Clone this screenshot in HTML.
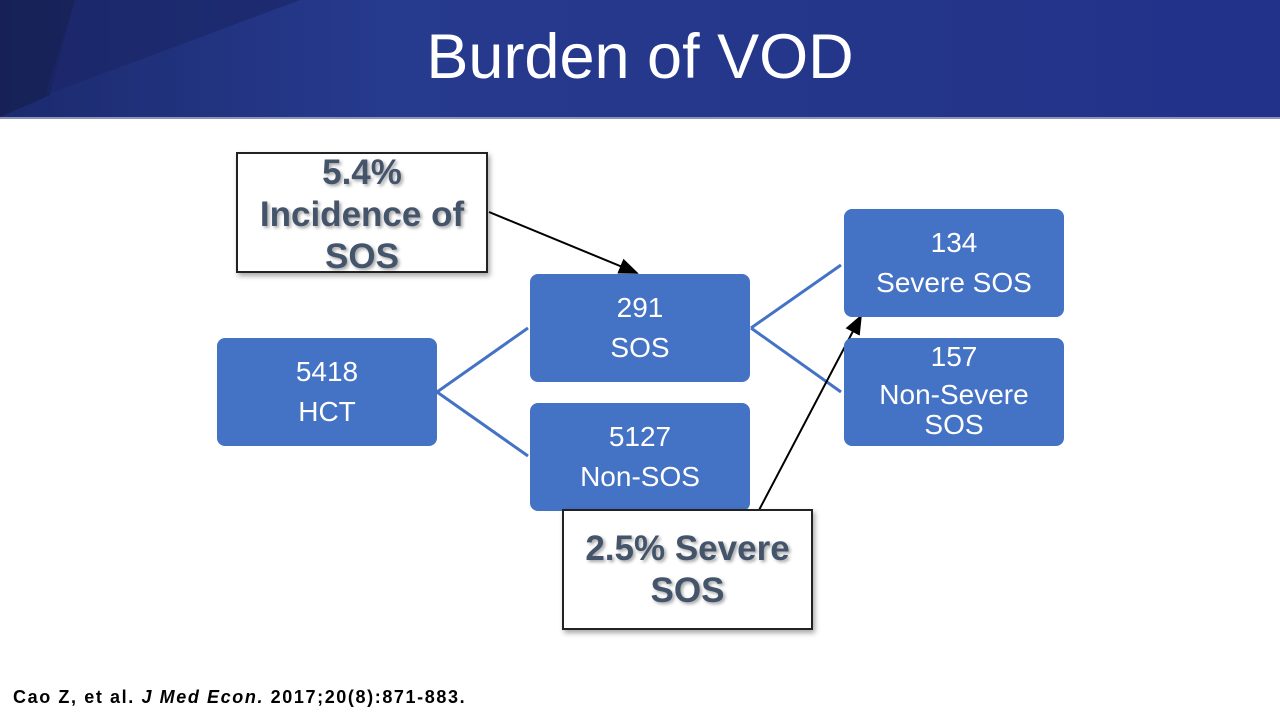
<!DOCTYPE html>
<html><head><meta charset="utf-8"><style>
body{margin:0;width:1280px;height:720px;position:relative;background:#fff;font-family:"Liberation Sans",Arial,sans-serif;overflow:hidden}
.hdr{position:absolute;left:0;top:0;width:1280px;height:117px;background:linear-gradient(90deg,#1c2a6e 0%,#263a8e 30%,#243689 70%,#22318a 100%);border-bottom:2px solid #8c93b8}
.title{position:absolute;left:0;width:1280px;top:21px;text-align:center;color:#fff;font-size:63px;line-height:72px}
.box{position:absolute;width:220px;height:108px;background:#4472C4;border-radius:8px;color:#fff;font-size:28px;text-align:center;display:flex;flex-direction:column;justify-content:center;line-height:40px}
.call{position:absolute;box-sizing:border-box;background:#fff;border:2px solid #222;box-shadow:2px 3px 5px rgba(0,0,0,.35);color:#44546A;font-weight:bold;font-size:35px;text-align:center;line-height:42px;text-shadow:2px 2px 3px rgba(0,0,0,.35);display:flex;flex-direction:column;justify-content:center}
.foot{position:absolute;left:13px;top:687px;font-size:18px;letter-spacing:1.6px;font-weight:bold;color:#000}
</style></head><body>
<div class="hdr">
<svg width="1280" height="117" style="position:absolute;left:0;top:0"><polygon points="0,0 75,0 50,95 0,117" fill="#141c4a" opacity=".6"/><polygon points="75,0 300,0 45,95" fill="#1b2668" opacity=".7"/></svg>
<div class="title">Burden of VOD</div></div>
<svg width="1280" height="720" style="position:absolute;left:0;top:0">
<defs><marker id="ah" markerWidth="10" markerHeight="8" refX="9" refY="4" orient="auto"><polygon points="0,0 10,4 0,8" fill="#000"/></marker></defs>
<g stroke="#4472C4" stroke-width="3" fill="none">
<line x1="437" y1="392" x2="528" y2="328"/><line x1="437" y1="392" x2="528" y2="456"/>
<line x1="751" y1="328" x2="841" y2="265"/><line x1="751" y1="328" x2="841" y2="392"/></g>
<line x1="489" y1="212" x2="637" y2="273" stroke="#000" stroke-width="2" marker-end="url(#ah)"/>
<line x1="758" y1="512" x2="861" y2="316" stroke="#000" stroke-width="2" marker-end="url(#ah)"/>
</svg>
<div class="box" style="left:217px;top:338px"><div>5418</div><div>HCT</div></div>
<div class="box" style="left:530px;top:274px"><div>291</div><div>SOS</div></div>
<div class="box" style="left:530px;top:403px"><div>5127</div><div>Non-SOS</div></div>
<div class="box" style="left:844px;top:209px"><div>134</div><div>Severe SOS</div></div>
<div class="box" style="left:844px;top:338px;line-height:30px"><div style="margin-bottom:8px;margin-top:-2px">157</div><div>Non-Severe<br>SOS</div></div>
<div class="call" style="left:236px;top:152px;width:252px;height:121px;padding-top:4px"><div>5.4%</div><div>Incidence of</div><div>SOS</div></div>
<div class="call" style="left:562px;top:509px;width:251px;height:121px"><div>2.5% Severe</div><div>SOS</div></div>
<div class="foot">Cao Z, et al. <i>J Med Econ.</i> 2017;20(8):871-883.</div>
</body></html>
